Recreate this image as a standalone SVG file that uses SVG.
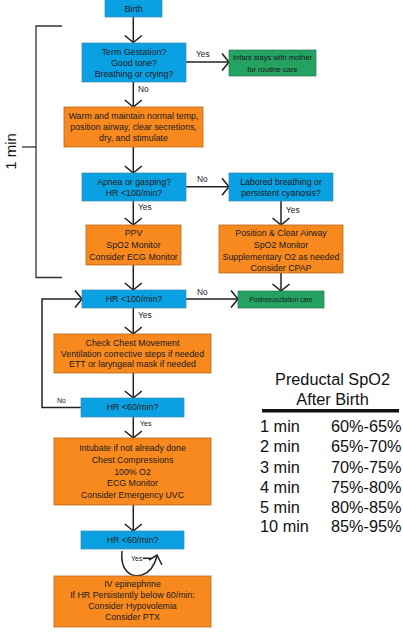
<svg xmlns="http://www.w3.org/2000/svg" width="403" height="635" viewBox="0 0 403 635">
<defs>
<style>
.b{fill:#0aa1e2;stroke:#3f86b3;stroke-width:0.7}
.o{fill:#f7891f;stroke:#b8691c;stroke-width:0.8}
.g{fill:#23a262;stroke:#2a7a50;stroke-width:0.7}
text{font-family:"Liberation Sans",Arial,sans-serif;fill:#1a1a1a}
.t{font-size:8.8px;text-anchor:middle}
.s{font-size:7.5px;text-anchor:middle}
.l{font-size:8.3px}
.c{fill:none;stroke:#222;stroke-width:1.5}
.k{fill:none;stroke:#333;stroke-width:1.3}
.tb{font-size:16.3px;fill:#111}
</style>
<marker id="a" markerUnits="userSpaceOnUse" markerWidth="22" markerHeight="22" viewBox="-11 -11 22 22" refX="0" refY="0" orient="auto">
<path d="M-7,-8.5 L0,0 L-7,8.5" fill="none" stroke="#222" stroke-width="1.6"/>
</marker>
</defs>

<g id="bracket">
<path class="k" d="M62,26 H36 V277.5 H62"/>
<path class="k" d="M22,147 H36"/>
<text class="tb" transform="translate(15.5,151.5) rotate(-90)" text-anchor="middle" style="font-size:15px">1 min</text>
</g>

<g id="connectors">
<path class="c" marker-end="url(#a)" d="M133.3,17 V42.5"/>
<path class="c" marker-end="url(#a)" d="M186,62 H229"/>
<path class="c" marker-end="url(#a)" d="M133.3,82 V107"/>
<path class="c" marker-end="url(#a)" d="M133.3,147 V173"/>
<path class="c" marker-end="url(#a)" d="M186,186.7 H229"/>
<path class="c" marker-end="url(#a)" d="M133.3,201 V225"/>
<path class="c" marker-end="url(#a)" d="M281,201 V225"/>
<path class="c" marker-end="url(#a)" d="M133.3,265 V290"/>
<path class="c" marker-end="url(#a)" d="M281,273 V291"/>
<path class="c" marker-end="url(#a)" d="M186,299 H238"/>
<path class="c" marker-end="url(#a)" d="M133.3,308 V334"/>
<path class="c" marker-end="url(#a)" d="M133.3,373 V398"/>
<path class="c" marker-end="url(#a)" d="M81,407.5 H42 V299 H82"/>
<path class="c" marker-end="url(#a)" d="M133.3,417 V438"/>
<path class="c" marker-end="url(#a)" d="M133.3,505 V531"/>
<path class="c" d="M122,551 C120,570 130,578 142,575 C151,572 155,564 157,556"/>
<path class="c" d="M149,560 L157,555 L162,565"/>
<path class="c" stroke-width="1.1" d="M143,558.3 H151"/>
</g>

<g id="labels">
<text class="l" x="196" y="57">Yes</text>
<text class="l" x="138" y="92">No</text>
<text class="l" x="197" y="182">No</text>
<text class="l" x="138" y="209.7">Yes</text>
<text class="l" x="286" y="213">Yes</text>
<text class="l" x="197" y="294.7">No</text>
<text class="l" x="138" y="318">Yes</text>
<text class="l" x="57" y="403" style="font-size:7px">No</text>
<text class="l" x="140" y="426" style="font-size:7px">Yes</text>
<text class="l" x="131" y="560.5" style="font-size:7px">Yes</text>
</g>

<g id="birth">
<rect class="b" x="105" y="-1" width="57" height="18"/>
<text class="t" x="133.5" y="11.5">Birth</text>
</g>

<g id="term">
<rect class="b" x="82" y="43" width="104" height="39"/>
<text class="t" x="134" y="55">Term Gestation?</text>
<text class="t" x="134" y="66">Good tone?</text>
<text class="t" x="134" y="77">Breathing or crying?</text>
</g>

<g id="routine">
<rect class="g" x="229" y="50" width="87" height="26"/>
<text class="s" x="272.5" y="60">Infant stays with mother</text>
<text class="s" x="272.5" y="71.5">for routine care</text>
</g>

<g id="warm">
<rect class="o" x="64" y="107" width="139" height="40"/>
<text class="t" x="133.5" y="119">Warm and maintain normal temp,</text>
<text class="t" x="133.5" y="130">position airway, clear secretions,</text>
<text class="t" x="133.5" y="141">dry, and stimulate</text>
</g>

<g id="apnea">
<rect class="b" x="82" y="173" width="104" height="28"/>
<text class="t" x="134" y="184.7">Apnea or gasping?</text>
<text class="t" x="134" y="195.7">HR &lt;100/min?</text>
</g>

<g id="labored">
<rect class="b" x="229" y="173" width="104" height="28"/>
<text class="t" x="281" y="185">Labored breathing or</text>
<text class="t" x="281" y="196">persistent cyanosis?</text>
</g>

<g id="ppv">
<rect class="o" x="86" y="225" width="95" height="40"/>
<text class="t" x="133.5" y="236.3">PPV</text>
<text class="t" x="133.5" y="248">SpO2 Monitor</text>
<text class="t" x="133.5" y="259.7">Consider ECG Monitor</text>
</g>

<g id="position">
<rect class="o" x="219" y="225" width="124" height="48"/>
<text class="t" x="281" y="236.3">Position &amp; Clear Airway</text>
<text class="t" x="281" y="247.7">SpO2 Monitor</text>
<text class="t" x="281" y="259.5">Supplementary O2 as needed</text>
<text class="t" x="281" y="270.7">Consider CPAP</text>
</g>

<g id="hr100">
<rect class="b" x="82" y="290" width="104" height="18"/>
<text class="t" x="134" y="301.5">HR &lt;100/min?</text>
</g>

<g id="postresus">
<rect class="g" x="238" y="291" width="86" height="17"/>
<text class="s" x="281" y="302.3" style="font-size:6.4px">Postresuscitation care</text>
</g>

<g id="chest">
<rect class="o" x="54" y="334" width="157" height="39"/>
<text class="t" x="132.5" y="345.7">Check Chest Movement</text>
<text class="t" x="132.5" y="356.5">Ventilation corrective steps if needed</text>
<text class="t" x="132.5" y="367.3">ETT or laryngeal mask if needed</text>
</g>

<g id="hr60a">
<rect class="b" x="81" y="398" width="103" height="19"/>
<text class="t" x="132.5" y="410.3">HR &lt;60/min?</text>
</g>

<g id="intubate">
<rect class="o" x="54" y="438" width="157" height="67"/>
<text class="t" x="132.5" y="451.3">Intubate if not already done</text>
<text class="t" x="132.5" y="463">Chest Compressions</text>
<text class="t" x="132.5" y="474.7">100% O2</text>
<text class="t" x="132.5" y="486.4">ECG Monitor</text>
<text class="t" x="132.5" y="498">Consider Emergency UVC</text>
</g>

<g id="hr60b">
<rect class="b" x="81" y="531" width="103" height="18"/>
<text class="t" x="132.5" y="543">HR &lt;60/min?</text>
</g>

<g id="epi">
<rect class="o" x="54" y="576" width="157" height="51"/>
<text class="t" x="132.5" y="587">IV epinephrine</text>
<text class="t" x="132.5" y="598">If HR Persistently below 60/min:</text>
<text class="t" x="132.5" y="609">Consider Hypovolemia</text>
<text class="t" x="132.5" y="620.3">Consider PTX</text>
</g>

<g id="spo2-table">
<text class="tb" x="332.5" y="385" text-anchor="middle">Preductal SpO2</text>
<text class="tb" x="332.5" y="405" text-anchor="middle">After Birth</text>
<path d="M262,410.7 H399" stroke="#111" stroke-width="3.5"/>
<text class="tb" x="260" y="431.5">1 min</text><text class="tb" x="331" y="431.5">60%-65%</text>
<text class="tb" x="260" y="452">2 min</text><text class="tb" x="331" y="452">65%-70%</text>
<text class="tb" x="260" y="473">3 min</text><text class="tb" x="331" y="473">70%-75%</text>
<text class="tb" x="260" y="493">4 min</text><text class="tb" x="331" y="493">75%-80%</text>
<text class="tb" x="260" y="512.5">5 min</text><text class="tb" x="331" y="512.5">80%-85%</text>
<text class="tb" x="260" y="532">10 min</text><text class="tb" x="331" y="532">85%-95%</text>
</g>
</svg>
